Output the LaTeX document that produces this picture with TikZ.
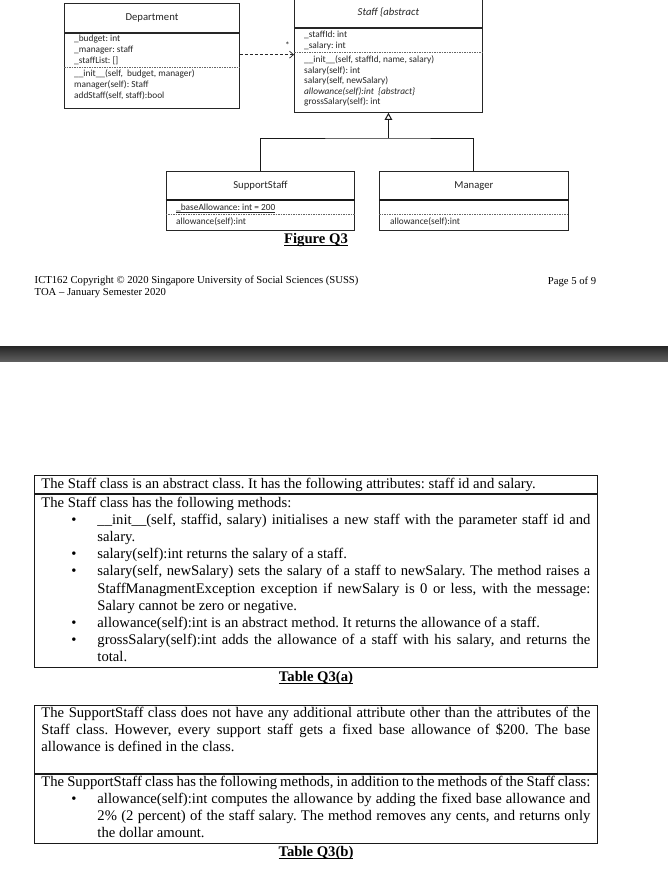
\documentclass[tikz,border=0pt]{standalone}
\usepackage{fontspec}
\setmainfont{Liberation Serif}
\newfontfamily\umlfont{Carlito}
\usetikzlibrary{positioning,arrows.meta}
\setlength{\parindent}{0pt}
\frenchspacing
\tolerance=9999
\hbadness=10000
\hyphenpenalty=10000
\newcommand{\ulwith}[3]{\setbox0=\hbox{#3}\rlap{\rule[-#1]{\wd0}{#2}}\box0}
\newcommand{\qitem}{\par\hangindent=56pt\hangafter=0\noindent\llap{\textbullet\hspace{21pt}}}
\tikzset{
  clsname/.style ={draw=black!85, line width=0.9pt, anchor=north west, inner sep=0pt,
                   text height=7.5pt, text depth=2.3pt, text=black!85,
                   font=\umlfont\fontsize{10.67}{12}\selectfont},
  clsbody/.style ={draw=black!85, line width=0.9pt, anchor=north west, inner sep=0pt},
  member/.style  ={anchor=base west, inner sep=0pt, text=black!85,
                   font=\umlfont\fontsize{9.33}{11}\selectfont},
  compsep/.style ={dash pattern=on 1.5pt off 1pt, black!60, line width=0.6pt},
  namesep/.style ={black!90, line width=1.7pt},
  dep/.style     ={dash pattern=on 3pt off 2pt, line width=0.7pt, black!85,
                   -{Straight Barb[length=4pt, width=7pt]}},
  genline/.style ={line width=1pt, black!90},
  gen/.style     ={genline, -{Triangle[open, length=7pt, width=7.5pt]}},
  capt/.style    ={anchor=base, inner sep=0pt, font=\bfseries\fontsize{14.67}{17}\selectfont},
  foot/.style    ={anchor=base west, inner sep=0pt, font=\fontsize{10.67}{12.4}\selectfont},
  band/.style    ={anchor=north west, inner sep=0pt, minimum width=668pt, minimum height=15pt,
                   top color=black!84, bottom color=black!62},
  cellbox/.style ={draw=black!90, line width=0.9pt, anchor=north west, text width=549pt,
                   inner xsep=6.7pt, inner ysep=0.4pt, align=justify,
                   font=\fontsize{14.67}{17.2}\selectfont},
}
\begin{document}
\begin{tikzpicture}[x=1pt, y=-1pt]
  \path[fill=white, use as bounding box] (0,0) rectangle (668,871);
  \clip (0,0) rectangle (668,871);

  % Department
  \node[clsname, minimum width=175pt, minimum height=29pt] (dept) at (64,3) {Department};
  \node[clsbody, minimum width=175pt, minimum height=75pt] (deptbody) at (dept.south west) {};
  \foreach \m [count=\i] in {{\_budget: int}, {\_manager: staff}, {\_staffList: []}}
    \node[member] (da\i) at (74, 30.3+11.2*\i) {\m};
  \draw[compsep] (deptbody.west |- 0,67.7) -- (deptbody.east |- 0,67.7);
  \foreach \m [count=\i] in {{\_\_init\_\_(self,\ \ budget, manager)}, {manager(self): Staff},
                             {addStaff(self, staff):bool}}
    \node[member] (dm\i) at (74, 65+11.2*\i) {\m};

  % Staff
  \node[clsname, font=\umlfont\itshape\fontsize{10.67}{12}\selectfont,
        minimum width=188pt, minimum height=29.5pt] (staff) at (294,-2.5) {Staff \{abstract};
  \node[clsbody, minimum width=188pt, minimum height=84pt] (staffbody) at (staff.south west) {};
  \foreach \m [count=\i] in {{\_staffId: int}, {\_salary: int}}
    \node[member] (sa\i) at (304, 27.2+10.5*\i) {\m};
  \draw[compsep] (staffbody.west |- 0,52.3) -- (staffbody.east |- 0,52.3);
  \foreach \m [count=\i] in {{\_\_init\_\_(self, staffId, name, salary)}, {salary(self): int},
                             {salary(self, newSalary)}, {\itshape allowance(self):int\ \ \{abstract\}},
                             {grossSalary(self): int}}
    \node[member] (sm\i) at (304, 52.4+10.5*\i) {\m};

  % SupportStaff
  \node[clsname, minimum width=188.6pt, minimum height=28.3pt] (ss) at (165.7,171) {SupportStaff};
  \node[clsbody, minimum width=188.6pt, minimum height=30pt] (ssbody) at (ss.south west) {};
  \draw[namesep] (ss.south west) -- (ss.south east);
  \node[member] (ssa) at (176,210.8) {\ulwith{1.6pt}{0.5pt}{\_baseAllowance: int = 200}};
  \draw[compsep] (ssbody.west |- 0,214.3) -- (ssbody.east |- 0,214.3);
  \node[member] (ssm) at (176,224.3) {allowance(self):int};

  % Manager
  \node[clsname, minimum width=188.4pt, minimum height=28.3pt] (mgr) at (379.3,171) {Manager};
  \node[clsbody, minimum width=188.4pt, minimum height=30pt] (mgrbody) at (mgr.south west) {};
  \draw[namesep] (mgr.south west) -- (mgr.south east);
  \draw[compsep] (mgrbody.west |- 0,214.5) -- (mgrbody.east |- 0,214.5);
  \node[member] (mgrm) at (390,224.3) {allowance(self):int};

  % connectors
  \draw[dep] ([yshift=16.2pt]deptbody.east) -- ([yshift=15.7pt]staffbody.west);
  \node[member] (mult) at (284.8,48) {*};
  \coordinate (joint) at (staffbody.south |- 0,138);
  \draw[genline] (ss.north) |- (joint) -| (mgr.north);
  \draw[gen] (joint) -- (staffbody.south);

  \node[capt] (figcap) at (316,243.5) {\ulwith{2.6pt}{1.1pt}{Figure Q3}};

  % page footer and page break
  \node[foot] (foot1) at (34.5,283.3) {ICT162 Copyright \textcopyright{} 2020 Singapore University of Social Sciences (SUSS)};
  \node[foot] (foot2) at (34.5,295.7) {TOA -- January Semester 2020};
  \node[foot] (pageno) at (547.7,284) {Page 5 of 9};
  \node[band] (pagebreak) at (0,346.7) {};

  % Table Q3(a)
  \node[cellbox] (qa1) at (34.3,475.3) {\strut The Staff class is an abstract class. It has the following attributes: staff id and salary.\strut};
  \node[cellbox] (qa2) at (qa1.south west) {\strut The Staff class has the following methods:
    \qitem \_\_init\_\_(self, staffid, salary) initialises a new staff with the parameter staff id and\linebreak salary.
    \qitem salary(self):int returns the salary of a staff.
    \qitem salary(self, newSalary) sets the salary of a staff to newSalary. The method raises a\linebreak
      StaffManagmentException exception if newSalary is 0 or less, with the message:\linebreak
      Salary cannot be zero or negative.
    \qitem allowance(self):int is an abstract method. It returns the allowance of a staff.
    \qitem grossSalary(self):int adds the allowance of a staff with his salary, and returns the\linebreak total.\strut\par};
  \node[capt] (tabcapa) at (316,681) {\ulwith{2.6pt}{1.1pt}{Table Q3(a)}};

  % Table Q3(b)
  \node[cellbox, font=\fontsize{14.67}{16.9}\selectfont] (qb1) at (34.3,705) {\strut The SupportStaff class does not have any additional attribute other than the attributes of the\linebreak
    Staff class. However, every support staff gets a fixed base allowance of \$200. The base\linebreak
    allowance is defined in the class.\par\strut};
  \node[cellbox, font=\fontsize{14.67}{16.9}\selectfont] (qb2) at (qb1.south west) {\strut\makebox[\linewidth][s]{The SupportStaff class has the following methods, in addition to the methods of the Staff class:}
    \qitem allowance(self):int computes the allowance by adding the fixed base allowance and\linebreak
      2\% (2 percent) of the staff salary. The method removes any cents, and returns only\linebreak
      the dollar amount.\strut\par};
  \node[capt] (tabcapb) at (316,856) {\ulwith{2.6pt}{1.1pt}{Table Q3(b)}};
\end{tikzpicture}
\end{document}
